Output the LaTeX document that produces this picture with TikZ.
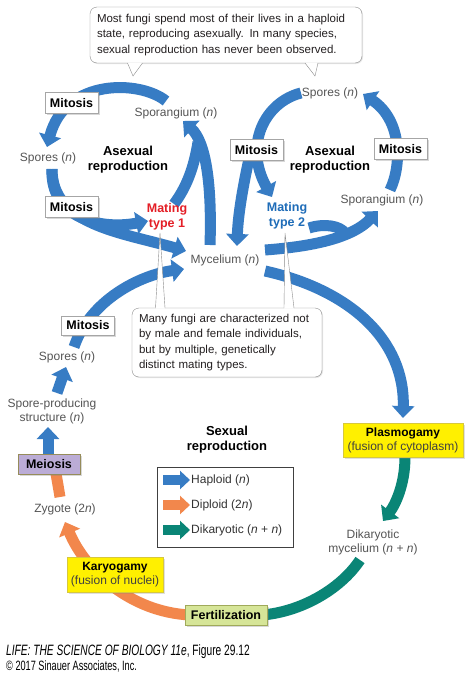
\documentclass[tikz,border=0pt]{standalone}
\usepackage{fontspec}
\setmainfont{Liberation Sans}
\newfontfamily\condfont[FakeStretch=0.68]{Liberation Sans}
\usetikzlibrary{arrows.meta,shadows,positioning}

\definecolor{hapblue}{RGB}{55,124,196}
\definecolor{diporange}{RGB}{242,135,76}
\definecolor{dikteal}{RGB}{10,133,118}
\definecolor{labgray}{RGB}{85,85,85}
\definecolor{notegray}{RGB}{140,140,140}
\definecolor{notetext}{RGB}{35,31,32}
\definecolor{mtred}{RGB}{228,30,38}
\definecolor{mtblue}{RGB}{30,108,184}
\definecolor{ybright}{RGB}{255,240,0}
\definecolor{yedge}{RGB}{215,200,60}
\definecolor{fertgreen}{RGB}{214,229,152}
\definecolor{fertedge}{RGB}{160,170,90}
\definecolor{meiopurple}{RGB}{187,172,214}
\definecolor{meioedge}{RGB}{150,140,90}

\tikzset{
  hap/.style={draw=hapblue, line width=11pt},
  dip/.style={draw=diporange, line width=11pt},
  dik/.style={draw=dikteal, line width=11pt},
  bighead/.style={-{Triangle[length=12pt,width=22pt]}},
  lbl/.style={text=labgray, font=\fontsize{12}{14}\selectfont, align=center, inner sep=1pt},
  bigbold/.style={font=\fontsize{13}{15}\selectfont\bfseries, align=center},
  mating/.style={font=\fontsize{12.5}{15}\selectfont\bfseries, align=center},
  mitbox/.style={draw=black!35, fill=white, font=\fontsize{12.5}{14}\selectfont\bfseries,
    minimum width=53pt, minimum height=21pt, inner sep=2pt,
    drop shadow={shadow xshift=1.5pt, shadow yshift=-1.5pt, opacity=.3}},
  ybox/.style={draw=yedge, fill=ybright, font=\fontsize{12}{14}\selectfont, align=center,
    inner sep=2pt, drop shadow={shadow xshift=1.5pt, shadow yshift=-1.5pt, opacity=.25}},
  note/.style={draw=notegray, fill=white, rounded corners=7pt, align=left, inner xsep=7pt,
    text=notetext, font=\fontsize{11.5}{15.5}\selectfont,
    drop shadow={shadow xshift=1pt, shadow yshift=-1pt, opacity=.2}}
}

\begin{document}
\begin{tikzpicture}[x=1pt, y=-1pt]
\fill[white] (0,0) rectangle (474,675);

% end points of the bands
\coordinate (l1a) at (166,101);  \coordinate (l1b) at (47,147);
\coordinate (l2a) at (52,169);   \coordinate (l2b) at (148,221);  \coordinate (l2c) at (186,251);
\coordinate (l3a) at (174,204);  \coordinate (l3b) at (198,142);
\coordinate (l4a) at (210,245);  \coordinate (l4b) at (183,121);
\coordinate (r1a) at (301,93);   \coordinate (r1b) at (272,197);
\coordinate (r2a) at (251,150);  \coordinate (r2b) at (237,246);
\coordinate (r3a) at (390,190);  \coordinate (r3b) at (363,94);
\coordinate (r4a) at (309,228);  \coordinate (r4b) at (345,233);
\coordinate (r5a) at (265,250);  \coordinate (r5b) at (378,211);
\coordinate (s1a) at (265,271);  \coordinate (s1b) at (403,418);
\coordinate (s2a) at (405,457);  \coordinate (s2b) at (383,521);
\coordinate (s3a) at (360,560);  \coordinate (s3b) at (262,615);
\coordinate (s4a) at (190,615);  \coordinate (s4b) at (65,522);
\coordinate (s5a) at (60,497);   \coordinate (s5b) at (55,468);
\coordinate (s6a) at (48,460);   \coordinate (s6b) at (48,427);
\coordinate (s7a) at (57,393);   \coordinate (s7b) at (66,367);
\coordinate (s8a) at (74,347);   \coordinate (s8b) at (184,269);

% asexual cycle, mating type 1
\draw[hap, bighead] (l1a) .. controls (140,80) and (65,78) .. (l1b);
\draw[hap, bighead] (l2a) .. controls (52,225) and (120,232) .. (l2c);
\draw[hap, bighead] (l2a) .. controls (50,218) and (100,230) .. (l2b);
\draw[hap] (l3a) .. controls (186,188) and (194,168) .. (l3b);
\draw[hap, bighead] (l4a) .. controls (212,185) and (206,142) .. (l4b);

% asexual cycle, mating type 2
\draw[hap, bighead] (r1a) .. controls (265,102) and (243,145) .. (r1b);
\draw[hap, bighead] (r2a) .. controls (243,185) and (238,215) .. (r2b);
\draw[hap, bighead] (r3a) .. controls (402,165) and (402,120) .. (r3b);
\draw[hap] (r4a) .. controls (325,223) and (340,226) .. (r4b);
\draw[hap, bighead] (r5a) .. controls (305,247) and (350,240) .. (r5b);

% sexual cycle
\draw[hap, bighead] (s1a) .. controls (350,290) and (405,340) .. (s1b);
\draw[dik, bighead] (s2a) .. controls (405,485) and (395,505) .. (s2b);
\draw[dik] (s3a) .. controls (340,590) and (300,612) .. (s3b);
\draw[dip, bighead] (s4a) .. controls (130,612) and (85,570) .. (s4b);
\draw[dip] (s5a) .. controls (58,485) .. (s5b);
\draw[hap, bighead] (s6a) -- (s6b);
\draw[hap, bighead] (s7a) -- (s7b);
\draw[hap, bighead] (s8a) .. controls (90,300) and (140,275) .. (s8b);

% callouts
\node[note, text width=258pt, minimum height=56pt] (note1) at (226,35)
  {Most fungi spend most of their lives in a haploid\\
   state, reproducing asexually. In many species,\\
   sexual reproduction has never been observed.};
\coordinate (t1) at (133,76);
\coordinate (t2) at (315,76);
\fill[white] (127.5,62.5) -- (t1) -- (142.5,62.5) -- cycle;
\draw[notegray] (127.5,63) -- (t1) -- (142.5,63);
\fill[white] (305,62.5) -- (t2) -- (318,62.5) -- cycle;
\draw[notegray] (305,63) -- (t2) -- (318,63);

\node[note, text width=176pt, minimum height=69pt] (note2) at (227,342.5)
  {Many fungi are characterized not\\
   by male and female individuals,\\
   but by multiple, genetically\\
   distinct mating types.};
\coordinate (w1) at (160,233);
\coordinate (w2) at (285,233);
\fill[white] (155.5,308.6) -- (w1) -- (165,308.6) -- cycle;
\draw[notegray] (155.5,308) -- (w1) -- (165,308);
\fill[white] (284,308.6) -- (w2) -- (294,308.6) -- cycle;
\draw[notegray] (284,308) -- (w2) -- (294,308);

% labels
\node[lbl] (spor1) at (176,113) {Sporangium (\textit{n})};
\node[lbl] (spo1) at (48,158) {Spores (\textit{n})};
\node[bigbold] (asex1) at (128,160) {Asexual\\reproduction};
\node[mating, text=mtred] (mt1) at (167,217) {Mating\\type 1};
\node[lbl] (myc) at (225,260) {Mycelium (\textit{n})};
\node[lbl] (spo2) at (330,93) {Spores (\textit{n})};
\node[bigbold] (asex2) at (330,160) {Asexual\\reproduction};
\node[lbl] (spor2) at (382,200) {Sporangium (\textit{n})};
\node[mating, text=mtblue] (mt2) at (287,216) {Mating\\type 2};
\node[lbl] (spo3) at (67,357) {Spores (\textit{n})};
\node[lbl] (sps) at (52,411) {Spore-producing\\structure (\textit{n})};
\node[lbl] (zyg) at (65,509) {Zygote (2\textit{n})};
\node[lbl] (dik) at (373,542) {Dikaryotic\\mycelium (\textit{n} + \textit{n})};
\node[bigbold] (sex) at (227,440) {Sexual\\reproduction};

% boxes
\node[mitbox] (mit1) at (71.5,103) {Mitosis};
\node[mitbox] (mit2) at (71.5,207) {Mitosis};
\node[mitbox] (mit3) at (256.5,150) {Mitosis};
\node[mitbox] (mit4) at (400.5,149) {Mitosis};
\node[mitbox, minimum height=19pt] (mit5) at (88,325.5) {Mitosis};
\node[mitbox, fill=meiopurple, draw=meioedge, minimum width=62pt, minimum height=20pt] (mei) at (49,464) {Meiosis};
\node[ybox, minimum width=120pt, minimum height=34pt] (plas) at (403,440)
  {\textbf{Plasmogamy}\\\textcolor{black!75}{(fusion of cytoplasm)}};
\node[ybox, minimum width=96pt, minimum height=35pt] (kary) at (115,574.5)
  {\textbf{Karyogamy}\\\textcolor{black!75}{(fusion of nuclei)}};
\node[mitbox, fill=fertgreen, draw=fertedge, minimum width=82pt, minimum height=20pt] (fert) at (226,615) {Fertilization};

% legend
\node[draw=black!75, minimum width=136pt, minimum height=80pt] (leg) at (225,507) {};
\foreach \c/\t [count=\i] in {hapblue/{Haploid (\textit{n})}, diporange/{Diploid (2\textit{n})}, dikteal/{Dikaryotic (\textit{n} + \textit{n})}} {
  \node[anchor=west, inner sep=1pt, text=black!80, font=\fontsize{12}{14}\selectfont] (legt\i) at (190,455+25*\i) {\t};
  \draw[draw=\c, line width=10pt, -{Triangle[length=10pt,width=18pt]}] ([xshift=-27pt]legt\i.west) -- (legt\i.west);
}

% credit line
\node[anchor=base west, inner sep=0pt, font=\condfont\fontsize{15}{17}\selectfont] (cap1) at (6,655)
  {\textit{LIFE: THE SCIENCE OF BIOLOGY 11e}, Figure 29.12};
\node[anchor=base west, inner sep=0pt, font=\condfont\fontsize{13.5}{15}\selectfont] (cap2) at (6,670)
  {\textcopyright{} 2017 Sinauer Associates, Inc.};
\end{tikzpicture}
\end{document}
